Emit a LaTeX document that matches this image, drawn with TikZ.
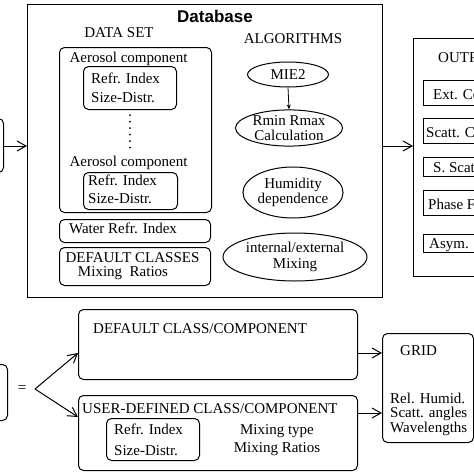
\documentclass[tikz,border=0pt]{standalone}
\usepackage{fontspec}
\setmainfont{Liberation Serif}
\setsansfont{Liberation Sans}
\usetikzlibrary{shapes.geometric,arrows.meta}
\begin{document}
\begin{tikzpicture}[x=1pt,y=-1pt,
  rbox/.style={draw, rounded corners=5pt, line width=1pt, inner sep=0pt, anchor=north west},
  sbox/.style={draw, line width=1pt, inner sep=0pt, anchor=north west},
  ell/.style={draw, ellipse, line width=1pt, inner sep=0pt, align=center, font=\fontsize{15}{15.5}\selectfont},
  txt/.style={inner sep=0pt, font=\fontsize{15}{16}\selectfont},
  arr/.style={line width=1pt, -{Straight Barb[length=9pt,width=10pt]}},
  smallarr/.style={line width=0.8pt, -{Stealth[length=5pt,width=4pt]}},
  dots/.style={line width=2pt, line cap=round, dash pattern=on 0pt off 6.5pt}
]
\useasboundingbox (0,0) rectangle (474,474);
\clip (0,0) rectangle (474,474);

% ---------- left partial boxes ----------
\node[rbox, minimum width=63pt, minimum height=54pt] (lb1) at (-60,118) {};
\node[rbox, minimum width=67pt, minimum height=56pt] (lb2) at (-60,364) {};

% ---------- Database ----------
\node[sbox, minimum width=355pt, minimum height=293pt] (db) at (27,4) {};
\node[txt, anchor=base west, font=\sffamily\bfseries\fontsize{17}{18}\selectfont] (dbt) at (177,22) {Database};
\node[txt, anchor=base] (ds) at (119,37) {DATA SET};
\node[txt, anchor=base] (alg) at (293,43) {ALGORITHMS};

% aerosol components
\node[rbox, minimum width=152pt, minimum height=165pt] (aer) at (59,47) {};
\node[txt, anchor=base] (ac1) at (128.5,62) {Aerosol component};
\node[rbox, minimum width=93pt, minimum height=43pt] (ib1) at (83,66) {};
\node[txt, anchor=base west] (r1) at (91,83) {Refr. Index};
\node[txt, anchor=base west] (s1) at (91,102) {Size-Distr.};
\coordinate (dtop) at (130,115);
\coordinate (dbot) at (130,150);
\draw[dots] (dtop) -- (dbot);
\node[txt, anchor=base] (ac2) at (128.5,166) {Aerosol component};
\node[rbox, minimum width=94pt, minimum height=37pt] (ib2) at (83,172) {};
\node[txt, anchor=base west] (r2) at (88,185) {Refr. Index};
\node[txt, anchor=base west] (s2) at (88,203) {Size-Distr.};

\node[rbox, minimum width=151pt, minimum height=23pt] (wat) at (59,219) {};
\node[txt, anchor=base] (watt) at (123,233) {Water Refr. Index};
\node[rbox, minimum width=151pt, minimum height=38pt] (dc) at (59,247) {};
\node[txt, anchor=base] (dct1) at (132.5,262) {DEFAULT CLASSES};
\node[txt, anchor=base] (dct2) at (123,276) {Mixing\ \ Ratios};

% algorithms
\node[ell, minimum width=81pt, minimum height=25pt] (mie) at (288,74.5) {MIE2};
\node[ell, minimum width=107pt, minimum height=36pt] (rmin) at (289,128) {Rmin Rmax\\Calculation};
\node[ell, minimum width=100pt, minimum height=51pt] (hum) at (293,192.5) {Humidity\\dependence};
\node[ell, minimum width=144pt, minimum height=48pt] (mix) at (295,257) {internal/external\\Mixing};
\draw[smallarr] (mie.south) -- (rmin.north);

% ---------- Output ----------
\node[sbox, minimum width=120pt, minimum height=238pt] (out) at (413,38) {};
\node[txt, anchor=base west] (outt) at (438,62) {OUTPUT};
\node[sbox, minimum width=90pt, minimum height=25pt] (o1) at (423,80) {};
\node[txt, anchor=base west] at (433,99) {Ext. Coeff.};
\node[sbox, minimum width=90pt, minimum height=25pt] (o2) at (423,118) {};
\node[txt, anchor=base west] at (426,137) {Scatt. Coeff.};
\node[sbox, minimum width=90pt, minimum height=19pt] (o3) at (423,157) {};
\node[txt, anchor=base west] at (433,172) {S. Scatt. Albedo};
\node[sbox, minimum width=90pt, minimum height=25pt] (o4) at (423,190) {};
\node[txt, anchor=base west] at (428,209) {Phase Function};
\node[sbox, minimum width=90pt, minimum height=18pt] (o5) at (423,234) {};
\node[txt, anchor=base west] at (429,248) {Asym. Parameter};

% ---------- bottom ----------
\node[rbox, minimum width=279pt, minimum height=70pt] (def) at (78,309) {};
\node[txt, anchor=base west] (deft) at (93,333) {DEFAULT CLASS/COMPONENT};
\node[rbox, minimum width=279pt, minimum height=75pt] (usr) at (78,395) {};
\node[txt, anchor=base west] (usrt) at (82,413) {USER-DEFINED CLASS/COMPONENT};
\node[rbox, minimum width=93pt, minimum height=42pt] (ib3) at (106,418) {};
\node[txt, anchor=base west] (r3) at (114,434) {Refr. Index};
\node[txt, anchor=base west] (s3) at (114,455) {Size-Distr.};
\node[txt, anchor=base] (mt) at (277,434) {Mixing type};
\node[txt, anchor=base] (mr) at (277,452) {Mixing Ratios};

\node[rbox, minimum width=91pt, minimum height=109pt] (grid) at (382,333) {};
\node[txt, anchor=base west] (gt) at (400,355) {GRID};
\node[txt, anchor=base west] (g1) at (390,403) {Rel. Humid.};
\node[txt, anchor=base west] (g2) at (390,417) {Scatt. angles};
\node[txt, anchor=base west] (g3) at (390,432) {Wavelengths};

\node[txt, anchor=center] (eq) at (22,389) {=};
\coordinate (fork) at (35,389);

% ---------- connectors ----------
\coordinate (ya) at (0,146);
\coordinate (yb) at (0,353);
\coordinate (yc) at (0,413);
\coordinate (yd) at (0,417);
\draw[arr] (lb1.east |- ya) -- (db.west |- ya);
\draw[arr] (db.east |- ya) -- (out.west |- ya);
\draw[arr] (fork) -- (def.west |- yb);
\draw[arr] (fork) -- (usr.west |- yd);
\draw[arr] (def.east |- yb) -- (grid.west |- yb);
\draw[arr] (usr.east |- yc) -- (grid.west |- yc);
\end{tikzpicture}
\end{document}
